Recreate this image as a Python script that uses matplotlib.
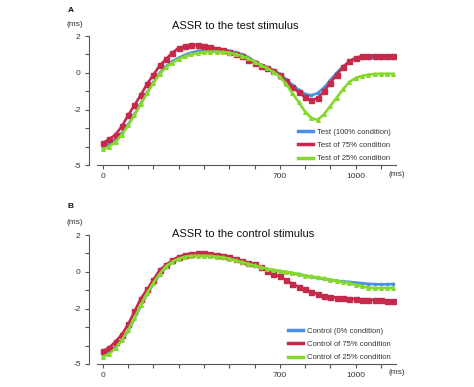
import matplotlib.pyplot as plt

plt.rcParams['font.family'] = ['Liberation Sans', 'DejaVu Sans']

# time points (ms), one marker every 25 ms
t = [0, 25, 50, 75, 100, 125, 150, 175, 200, 225, 250, 275, 300, 325, 350, 375,
     400, 425, 450, 475, 500, 525, 550, 575, 600, 625, 650, 675, 700, 725, 750,
     775, 800, 825, 850, 875, 900, 925, 950, 975, 1000, 1025, 1050, 1075, 1100,
     1125, 1150]

# panel A: ASSR to the test stimulus
test_100 = [-4.0, -3.85, -3.6, -3.25, -2.8, -2.25, -1.65, -1.05, -0.5, 0.0, 0.35,
            0.62, 0.82, 0.98, 1.1, 1.18, 1.24, 1.27, 1.28, 1.25, 1.2, 1.12, 1.0,
            0.85, 0.62, 0.45, 0.3, 0.15, -0.05, -0.35, -0.65, -0.92, -1.15, -1.22,
            -1.1, -0.8, -0.4, 0.0, 0.35, 0.6, 0.75, 0.8, 0.82, 0.82, 0.8, 0.8, 0.8]
test_75 = [-3.8, -3.6, -3.35, -2.9, -2.3, -1.75, -1.2, -0.6, -0.1, 0.4, 0.75, 1.1,
           1.35, 1.45, 1.5, 1.52, 1.48, 1.42, 1.32, 1.22, 1.12, 1.02, 0.9, 0.72,
           0.55, 0.38, 0.25, 0.12, -0.12, -0.45, -0.78, -1.05, -1.32, -1.47, -1.38,
           -1.0, -0.55, -0.1, 0.3, 0.62, 0.82, 0.9, 0.94, 0.93, 0.92, 0.9, 0.9]
test_25 = [-4.15, -4.0, -3.75, -3.35, -2.85, -2.3, -1.7, -1.1, -0.55, -0.05, 0.3,
           0.55, 0.75, 0.9, 1.0, 1.08, 1.12, 1.15, 1.15, 1.13, 1.1, 1.02, 0.92,
           0.78, 0.6, 0.42, 0.25, 0.05, -0.2, -0.6, -1.1, -1.6, -2.1, -2.45, -2.55,
           -2.25, -1.8, -1.35, -0.9, -0.5, -0.28, -0.17, -0.1, -0.06, -0.05, -0.05,
           -0.06]

# panel B: ASSR to the control stimulus
ctrl_0 = [-4.45, -4.35, -4.05, -3.7, -3.2, -2.55, -1.85, -1.2, -0.65, -0.15, 0.25,
          0.52, 0.7, 0.82, 0.88, 0.9, 0.9, 0.88, 0.85, 0.82, 0.75, 0.65, 0.55,
          0.45, 0.35, 0.25, 0.15, 0.08, 0.03, -0.02, -0.08, -0.13, -0.2, -0.27,
          -0.33, -0.38, -0.43, -0.48, -0.52, -0.55, -0.58, -0.62, -0.65, -0.67,
          -0.68, -0.67, -0.66]
ctrl_75 = [-4.29, -4.12, -3.78, -3.4, -2.85, -2.15, -1.45, -0.95, -0.42, 0.1, 0.38,
           0.64, 0.82, 0.93, 0.99, 1.0, 1.0, 0.97, 0.93, 0.88, 0.8, 0.72, 0.6, 0.5,
           0.42, 0.26, 0.05, -0.12, -0.25, -0.45, -0.65, -0.82, -0.95, -1.07, -1.2,
           -1.3, -1.35, -1.4, -1.43, -1.45, -1.47, -1.5, -1.52, -1.53, -1.55, -1.56,
           -1.56]
ctrl_25 = [-4.6, -4.45, -4.15, -3.7, -3.15, -2.5, -1.8, -1.15, -0.6, -0.1, 0.3,
           0.55, 0.72, 0.82, 0.87, 0.88, 0.88, 0.86, 0.83, 0.78, 0.72, 0.62, 0.53,
           0.44, 0.35, 0.27, 0.17, 0.1, 0.05, 0.0, -0.06, -0.12, -0.2, -0.25, -0.3,
           -0.35, -0.42, -0.48, -0.55, -0.62, -0.7, -0.78, -0.85, -0.88, -0.88,
           -0.87, -0.86]

blue = '#4a8fe6'
red = '#c62a4b'
green = '#84d92a'
gray = '#333333'

fig = plt.figure(figsize=(4.74, 3.87), dpi=100)


def panel(rect, title, title_xy, series, labels, letter, letter_y, ylab_y):
    ax = fig.add_axes(rect)
    b, r, g = series
    ax.plot(t, b, color=blue, lw=1.9, marker='o', ms=1.6, label=labels[0], zorder=2)
    ax.plot(t, r, color=red, lw=1.9, marker='s', ms=3.6, label=labels[1], zorder=3)
    ax.plot(t, g, color=green, lw=1.9, marker='^', ms=2.6, label=labels[2], zorder=4)

    ax.set_xlim(-55, 1160)
    ax.set_ylim(-5, 2)
    for s in ['top', 'right']:
        ax.spines[s].set_visible(False)
    ax.spines['bottom'].set_bounds(-24, 1160)
    ax.spines['left'].set_bounds(-5, 2)
    for s in ['bottom', 'left']:
        ax.spines[s].set_color('#555555')
        ax.spines[s].set_linewidth(0.8)

    xt = list(range(0, 1200, 100))
    ax.set_xticks(xt)
    ax.set_xticklabels(['0' if v == 0 else '700' if v == 700 else '1000' if v == 1000 else ''
                        for v in xt])
    ax.set_yticks([2, 1, 0, -1, -2, -3, -4, -5])
    ax.set_yticklabels(['2', '', '0', '', '-2', '', '', '-5'])
    ax.tick_params(direction='out', length=3, width=0.8, color='#555555',
                   labelsize=6, labelcolor=gray, pad=3)

    fig.text(title_xy[0] / 474, 1 - title_xy[1] / 387, title, ha='center',
             va='center', fontsize=8, color='#111111')
    fig.text(397 / 474, 1 - (ylab_y + 150) / 387, '(ms)', ha='center',
             va='center', fontsize=6, color=gray)
    fig.text(75 / 474, 1 - ylab_y / 387, '(ms)', ha='center', va='center',
             fontsize=6, color=gray)
    fig.text(71 / 474, 1 - letter_y / 387, letter, ha='center', va='center',
             fontsize=6, fontweight='bold', color='#111111')

    leg = ax.legend(loc='lower right', bbox_to_anchor=(1.0, -0.02), frameon=False,
                    fontsize=5.5, handlelength=2.0, handletextpad=0.5,
                    labelspacing=0.75, borderpad=0.2)
    for h in leg.legend_handles:
        h.set_marker('')
        h.set_linewidth(2.5)
    for txt in leg.get_texts():
        txt.set_color(gray)
    return ax


panel([89 / 474, 222 / 387, 307 / 474, 129 / 387], 'ASSR to the test stimulus',
      (235, 26), (test_100, test_75, test_25),
      ['Test (100% condition)', 'Test of 75% condition', 'Test of 25% condition'],
      'A', 10, 24)
panel([89 / 474, 23 / 387, 307 / 474, 129 / 387], 'ASSR to the control stimulus',
      (243, 234), (ctrl_0, ctrl_75, ctrl_25),
      ['Control (0% condition)', 'Control of 75% condition', 'Control of 25% condition'],
      'B', 206, 223)

fig.savefig('out.png', dpi=100)
